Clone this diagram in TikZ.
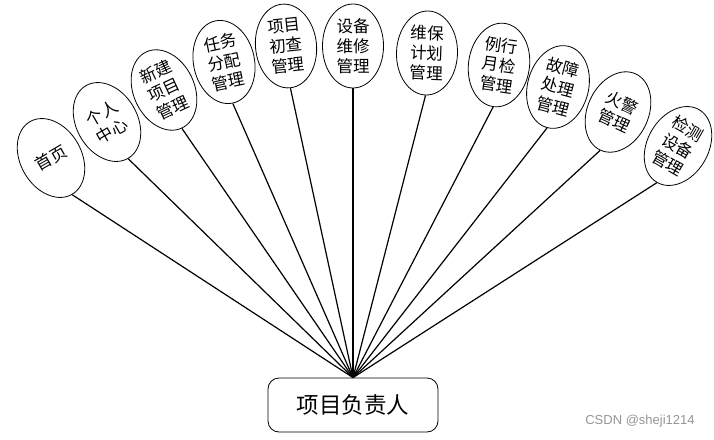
\documentclass[tikz,border=0pt]{standalone}
\usepackage{fontspec}
\newfontfamily\cjk{Noto Sans CJK SC}
\newfontfamily\wmfont{Liberation Sans}
\usepackage{tikz}
\usetikzlibrary{shapes.geometric, positioning}
\definecolor{wmgray}{RGB}{150,150,150}

\begin{document}
\begin{tikzpicture}[x=1pt, y=-1pt,
    module/.style={ellipse, draw, line width=0.8pt, inner sep=0pt,
      minimum width=61pt, minimum height=84pt, align=center,
      font=\cjk\fontsize{16.5}{20}\selectfont},
    link/.style={line width=1.2pt}]
  \useasboundingbox[fill=white] (0,0) rectangle (714,439);
  % root box
  \node[draw, rounded corners=11pt, line width=0.8pt,
        minimum width=170pt, minimum height=54pt,
        font=\cjk\fontsize{22.5}{26}\selectfont]
    (root) at (353,405) {项目负责人};
  % modules around the top
  \foreach \i/\x/\y/\ang/\lab in {
      1/51/158/30/{首页},
      2/107/122/30/{个人\\中心},
      3/164/90/25/{新建\\项目\\管理},
      4/224/62/12/{任务\\分配\\管理},
      5/286/46/6/{项目\\初查\\管理},
      6/353/46/0/{设备\\维修\\管理},
      7/427/53/-2/{维保\\计划\\管理},
      8/499/65/-8/{例行\\月检\\管理},
      9/558/87/-15/{故障\\处理\\管理},
      10/618/112/-25/{火警\\管理},
      11/678/146/-30/{检测\\设备\\管理}} {
    \node[module, rotate=\ang] (m\i) at (\x,\y) {\lab};
    \draw[link] (root.north) -- (m\i.south);
  }
  % watermark
  \node[wmgray, font=\wmfont\fontsize{13}{15}\selectfont]
    (mark) at (640,421) {CSDN @sheji1214};
\end{tikzpicture}
\end{document}
